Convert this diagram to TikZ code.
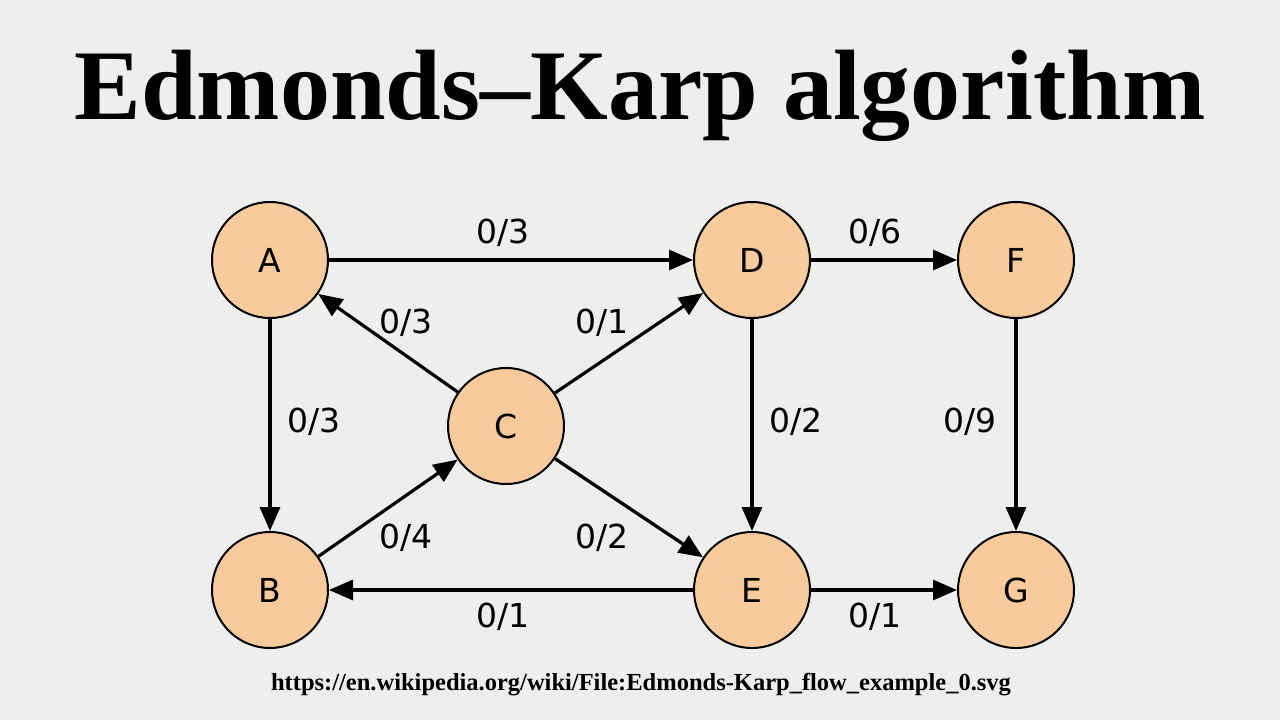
\documentclass[tikz,border=0pt]{standalone}
\usepackage{fontspec}
\setmainfont{Liberation Serif}
\newfontfamily\dv{DejaVu Sans}
\usetikzlibrary{arrows.meta}
\definecolor{bg}{HTML}{EEEEEC}
\definecolor{nodefill}{HTML}{F9CB9C}
\begin{document}
\begin{tikzpicture}[x=1pt,y=-1pt,
  vert/.style={circle,draw=black,line width=2pt,fill=nodefill,minimum size=116pt,inner sep=0pt,font=\dv\fontsize{33}{36}\selectfont},
  edge/.style={line width=3.2pt,-{Triangle[length=24pt,width=20pt]}},
  lab/.style={font=\dv\fontsize{33}{36}\selectfont}]
\fill[bg] (0,0) rectangle (1280,720);
\useasboundingbox (0,0) rectangle (1280,720);
\node[font=\bfseries\fontsize{100}{108}\selectfont] (title) at (640,96) {Edmonds–Karp algorithm};
\node[font=\bfseries\fontsize{24.5}{28}\selectfont] (url) at (641,685) {https://en.wikipedia.org/wiki/File:Edmonds-Karp\_flow\_example\_0.svg};
\node[vert] (A) at (270,260) {A};
\node[vert] (D) at (752,260) {D};
\node[vert] (F) at (1016,260) {F};
\node[vert] (C) at (506,426) {C};
\node[vert] (B) at (270,590) {B};
\node[vert] (E) at (752,590) {E};
\node[vert] (G) at (1016,590) {G};
\draw[edge] (A) -- (D);
\draw[edge] (D) -- (F);
\draw[edge] (C) -- (A);
\draw[edge] (C) -- (D);
\draw[edge] (A) -- (B);
\draw[edge] (D) -- (E);
\draw[edge] (F) -- (G);
\draw[edge] (B) -- (C);
\draw[edge] (C) -- (E);
\draw[edge] (E) -- (B);
\draw[edge] (E) -- (G);
\node[lab] (l1) at (503,233) {0/3};
\node[lab] (l2) at (875,233) {0/6};
\node[lab] (l3) at (406,323) {0/3};
\node[lab] (l4) at (602,323) {0/1};
\node[lab] (l5) at (314,422) {0/3};
\node[lab] (l6) at (796,422) {0/2};
\node[lab] (l7) at (970,422) {0/9};
\node[lab] (l8) at (406,538) {0/4};
\node[lab] (l9) at (602,538) {0/2};
\node[lab] (l10) at (503,617) {0/1};
\node[lab] (l11) at (875,617) {0/1};
\end{tikzpicture}
\end{document}
